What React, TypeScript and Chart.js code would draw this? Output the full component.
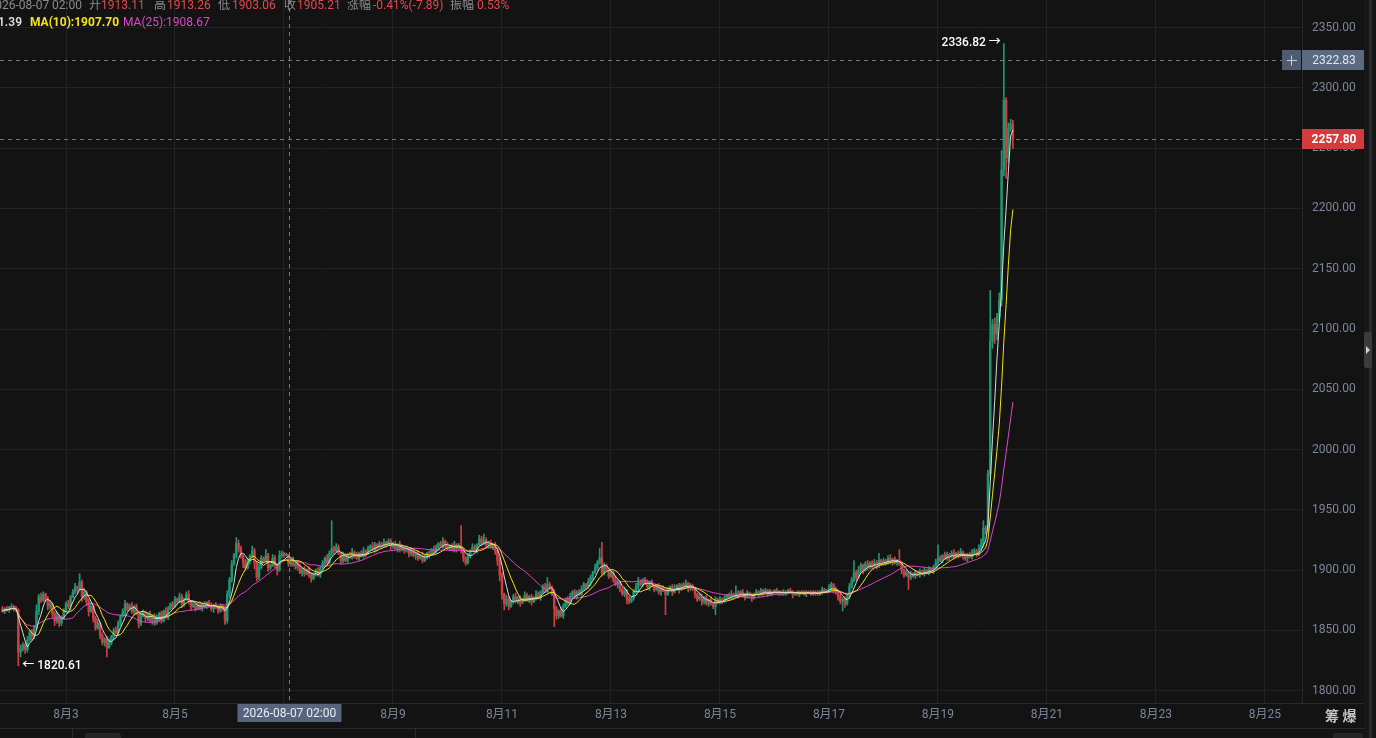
import React, { useEffect, useRef } from "react";
import { Chart, registerables } from "chart.js";

Chart.register(...registerables);

const FONT = "Roboto, 'Noto Sans CJK SC', 'Noto Sans', sans-serif";

// hours since 2026-08-01 00:00 of the first hourly candle
const FIRST_HOUR = 20;
const FIRST_OPEN = 1868;

// hourly closes, one row per day (8/1 from 20:00 ... 8/20 09:00)
const closes: number[] = [
  1866, 1868, 1867, 1869,
  1870, 1868, 1867, 1832, 1835, 1838, 1834, 1842, 1848, 1845, 1852, 1866, 1878, 1875, 1880, 1876, 1870, 1872, 1864, 1858, 1862, 1856, 1860, 1866,
  1872, 1870, 1878, 1882, 1886, 1884, 1890, 1878, 1882, 1874, 1866, 1870, 1860, 1852, 1856, 1846, 1840, 1843, 1836, 1840, 1845, 1850, 1848, 1856,
  1862, 1866, 1872, 1868, 1870, 1866, 1870, 1864, 1856, 1862, 1865, 1860, 1863, 1858, 1862, 1856, 1860, 1864, 1858, 1866, 1862, 1868, 1872, 1870,
  1876, 1874, 1878, 1872, 1876, 1880, 1874, 1870, 1872, 1868, 1871, 1869, 1872, 1870, 1873, 1870, 1868, 1871, 1869, 1866, 1870, 1868, 1858, 1880,
  1892, 1905, 1912, 1922, 1918, 1912, 1906, 1902, 1908, 1912, 1916, 1906, 1894, 1902, 1910, 1907.8, 1912, 1902, 1904, 1910, 1904, 1900, 1912, 1914,
  1912.63, 1913.11, 1905.21, 1908, 1904, 1906, 1902, 1898, 1901, 1897, 1900, 1896, 1893, 1897, 1899, 1896, 1902, 1906, 1910, 1906, 1914, 1918, 1916, 1919,
  1914, 1908, 1912, 1908, 1913, 1911, 1915, 1913, 1910, 1914, 1912, 1916, 1914, 1918, 1920, 1917, 1921, 1919, 1922, 1920, 1923, 1921, 1924, 1920,
  1922, 1918, 1921, 1917, 1919, 1916, 1918, 1914, 1916, 1912, 1914, 1910, 1912, 1908, 1911, 1914, 1913, 1917, 1915, 1919, 1922, 1920, 1924, 1921,
  1918, 1920, 1917, 1921, 1918, 1920, 1916, 1910, 1906, 1912, 1916, 1919, 1917, 1921, 1926, 1922, 1925, 1921, 1923, 1919, 1921, 1916, 1908, 1896,
  1880, 1872, 1876, 1870, 1874, 1878, 1874, 1877, 1873, 1876, 1879, 1875, 1878, 1874, 1877, 1880, 1877, 1882, 1886, 1884, 1888, 1886, 1882, 1868,
  1862, 1866, 1862, 1870, 1876, 1874, 1878, 1882, 1879, 1882, 1880, 1884, 1888, 1886, 1890, 1894, 1898, 1902, 1906, 1910, 1898, 1904, 1900, 1895,
  1898, 1892, 1888, 1890, 1884, 1880, 1883, 1876, 1874, 1877, 1882, 1886, 1890, 1888, 1892, 1889, 1886, 1890, 1887, 1884, 1886, 1882, 1885, 1883,
  1880, 1884, 1886, 1882, 1885, 1887, 1884, 1888, 1886, 1889, 1885, 1887, 1884, 1880, 1876, 1878, 1874, 1877, 1872, 1875, 1872, 1870, 1876, 1873,
  1876, 1874, 1877, 1879, 1877, 1880, 1878, 1881, 1879, 1882, 1880, 1878, 1881, 1879, 1877, 1880, 1882, 1880, 1883, 1881, 1883, 1880, 1882, 1881,
  1883, 1881, 1882, 1880, 1882, 1881, 1883, 1882, 1880, 1881, 1880, 1882, 1881, 1880, 1882, 1881, 1880, 1882, 1881, 1880, 1882, 1884, 1882, 1883,
  1885, 1888, 1884, 1882, 1878, 1874, 1876, 1872, 1878, 1886, 1892, 1898, 1894, 1900, 1904, 1900, 1905, 1902, 1906, 1903, 1906, 1904, 1908, 1905,
  1908, 1906, 1910, 1907, 1909, 1906, 1908, 1905, 1900, 1896, 1898, 1894, 1897, 1895, 1898, 1896, 1899, 1897, 1900, 1898, 1901, 1899, 1902, 1906,
  1910, 1908, 1912, 1910, 1913, 1911, 1914, 1911, 1914, 1912, 1915, 1912, 1910, 1913, 1911, 1914, 1916, 1913, 1918, 1922, 1935, 1934, 1980, 2090,
  2104, 2096, 2110, 2124, 2232, 2290, 2242, 2266, 2270, 2257.8,
];

// upper wick above the body
const wickUp: number[] = [
  2, 1, 2, 1,
  2, 1, 2, 1, 3, 2, 1, 3, 2, 3, 2, 5, 2, 3, 2, 1, 2, 3, 1, 2, 3, 1, 2, 2,
  2, 3, 1, 2, 3, 1, 7, 2, 3, 1, 2, 3, 1, 2, 3, 1, 2, 1, 2, 3, 1, 2, 3, 2,
  1, 2, 3, 1, 2, 3, 1, 2, 1, 3, 2, 1, 2, 3, 1, 2, 3, 1, 2, 1, 3, 2, 1, 2,
  2, 1, 3, 2, 1, 2, 3, 1, 2, 1, 2, 3, 1, 2, 1, 2, 3, 1, 2, 1, 2, 1, 2, 3,
  2, 3, 2, 5, 3, 2, 1, 3, 2, 1, 4, 2, 1, 3, 2, 1, 5, 2, 1, 3, 2, 1, 4, 2,
  1, 1, 0.15, 2, 3, 1, 2, 3, 1, 2, 1, 3, 2, 1, 2, 3, 1, 2, 1, 3, 2, 23, 2, 3,
  2, 1, 3, 2, 1, 2, 3, 1, 2, 1, 2, 3, 1, 2, 1, 3, 2, 1, 2, 1, 3, 1, 2, 2,
  1, 2, 1, 3, 2, 1, 2, 1, 3, 2, 1, 2, 1, 3, 2, 1, 2, 1, 3, 2, 1, 2, 3, 1,
  2, 1, 2, 3, 1, 2, 17, 2, 1, 2, 1, 3, 2, 1, 3, 2, 5, 2, 1, 2, 1, 2, 1, 2,
  2, 1, 3, 2, 1, 2, 3, 1, 2, 1, 3, 2, 1, 2, 1, 3, 2, 1, 2, 3, 6, 2, 1, 2,
  2, 1, 3, 2, 1, 2, 3, 1, 2, 1, 2, 3, 2, 1, 3, 2, 1, 3, 2, 8, 13, 2, 1, 2,
  2, 1, 3, 2, 1, 2, 3, 1, 2, 1, 2, 3, 4, 2, 1, 2, 3, 1, 2, 1, 2, 3, 1, 2,
  1, 2, 1, 2, 3, 1, 2, 1, 2, 3, 1, 2, 1, 2, 1, 3, 2, 1, 2, 1, 3, 1, 2, 1,
  2, 1, 2, 1, 2, 3, 1, 6, 2, 1, 2, 1, 2, 1, 2, 1, 2, 1, 2, 1, 2, 1, 2, 1,
  1, 2, 1, 1, 2, 1, 1, 2, 1, 1, 2, 1, 1, 2, 1, 1, 2, 1, 1, 2, 1, 2, 1, 1,
  3, 2, 1, 2, 1, 2, 1, 2, 2, 3, 2, 10, 2, 3, 2, 1, 2, 3, 1, 2, 3, 2, 6, 1,
  2, 1, 2, 3, 1, 2, 1, 9, 2, 1, 2, 1, 2, 1, 2, 1, 2, 1, 2, 1, 2, 1, 2, 3,
  11, 2, 1, 3, 2, 1, 2, 3, 1, 2, 3, 1, 2, 1, 2, 3, 2, 1, 3, 4, 6, 2, 3, 42,
  4, 5, 3, 6, 16, 46.82, 2, 5, 4, 3,
];

// lower wick below the body
const wickDn: number[] = [
  1, 2, 1, 2,
  1, 2, 1, 11.39, 4, 2, 3, 2, 1, 3, 2, 1, 3, 2, 1, 2, 3, 2, 3, 4, 2, 3, 2, 1,
  1, 2, 3, 1, 2, 3, 1, 4, 2, 3, 4, 1, 3, 2, 1, 3, 2, 3, 8, 1, 2, 3, 1, 2,
  2, 1, 3, 2, 1, 2, 3, 1, 4, 2, 1, 3, 2, 1, 3, 2, 1, 3, 2, 1, 2, 3, 1, 2,
  1, 2, 1, 3, 2, 1, 2, 3, 1, 2, 1, 2, 3, 1, 2, 1, 2, 3, 1, 2, 1, 2, 3, 2,
  3, 2, 1, 2, 3, 2, 4, 2, 1, 3, 2, 5, 3, 2, 1, 2, 1, 3, 2, 1, 2, 4, 1, 2,
  2, 1, 2.15, 2, 1, 3, 2, 1, 3, 2, 1, 2, 3, 1, 2, 1, 2, 1, 3, 2, 1, 2, 3, 1,
  1, 3, 2, 1, 2, 1, 2, 3, 1, 2, 1, 2, 3, 1, 2, 1, 2, 3, 1, 2, 1, 2, 1, 3,
  2, 1, 3, 2, 1, 2, 1, 3, 2, 1, 3, 2, 1, 2, 1, 2, 3, 1, 2, 1, 2, 1, 2, 3,
  1, 2, 1, 2, 3, 1, 2, 3, 2, 1, 2, 1, 2, 3, 1, 2, 1, 2, 3, 1, 2, 3, 4, 5,
  4, 5, 2, 3, 1, 2, 1, 2, 3, 1, 2, 1, 2, 3, 1, 2, 1, 2, 1, 2, 3, 2, 3, 15,
  3, 2, 1, 2, 1, 3, 2, 1, 2, 3, 1, 2, 1, 2, 1, 3, 2, 1, 2, 1, 3, 2, 1, 2,
  1, 2, 1, 3, 2, 1, 2, 4, 2, 1, 2, 1, 3, 1, 2, 1, 2, 3, 1, 2, 1, 2, 3, 1,
  17, 1, 2, 3, 1, 2, 3, 1, 2, 1, 3, 2, 1, 3, 2, 1, 3, 2, 1, 2, 1, 2, 7, 1,
  1, 2, 1, 2, 1, 1, 2, 1, 2, 1, 2, 3, 1, 2, 3, 1, 1, 2, 1, 2, 1, 2, 1, 2,
  1, 1, 2, 1, 1, 2, 1, 1, 3, 1, 1, 2, 1, 1, 2, 1, 1, 1, 2, 1, 1, 2, 1, 1,
  1, 2, 3, 2, 3, 2, 8, 3, 1, 2, 1, 2, 3, 1, 2, 3, 1, 2, 1, 2, 1, 3, 2, 1,
  1, 2, 1, 2, 3, 1, 2, 1, 3, 2, 1, 10, 2, 1, 2, 1, 2, 1, 2, 1, 2, 1, 2, 1,
  2, 1, 2, 1, 2, 3, 1, 2, 1, 2, 1, 3, 2, 3, 1, 2, 1, 2, 1, 2, 3, 4, 2, 3,
  6, 8, 5, 4, 5, 5, 17, 4, 2, 8,
];

const xTickHours = [48, 96, 144, 192, 240, 288, 336, 384, 432, 480, 528, 576];
const yTicks = [1800, 1850, 1900, 1950, 2000, 2050, 2100, 2150, 2200, 2250, 2300, 2350];
const maPeriods = [5, 10, 25];
const maColors = ["#d9d9d9", "#f3e21b", "#e046c8"];

const crosshairHour = 146;
const crosshairPrice = 2322.83;
const crosshairLabel = "2026-08-07 02:00";
const changeText = "-0.41%(-7.89)";
const amplitudeText = "0.53%";

const X_MIN = 18.935;
const X_MAX = 592.3;
const Y_MIN = 1789.8;
const Y_MAX = 2372.9;

const UP = "#1f9672";
const DOWN = "#cf3f42";

const hours = closes.map((_, i) => FIRST_HOUR + i);
const opens = closes.map((_, i) => (i === 0 ? FIRST_OPEN : closes[i - 1]));
const highs = closes.map((c, i) => Math.max(opens[i], c) + (wickUp[i] ?? 0));
const lows = closes.map((c, i) => Math.min(opens[i], c) - (wickDn[i] ?? 0));

function movingAverage(period: number): number[] {
  return closes.map((_, i) => {
    const s = Math.max(0, i - period + 1);
    let sum = 0;
    for (let k = s; k <= i; k++) sum += closes[k];
    return sum / (i - s + 1);
  });
}
const maSeries = maPeriods.map((p) => movingAverage(p));

const chIdx = crosshairHour - FIRST_HOUR;
const chOpen = opens[chIdx];
const chHigh = highs[chIdx];
const chLow = lows[chIdx];
const chClose = closes[chIdx];

const candleColor = (i: number) => (closes[i] >= opens[i] ? UP : DOWN);

const overlayPlugin = {
  id: "overlay",
  afterDraw(chart: any) {
    const { ctx, chartArea } = chart;
    const xs = chart.scales.x;
    const ys = chart.scales.y;
    ctx.save();

    // frame lines of the time axis band
    ctx.strokeStyle = "#2a2a2a";
    ctx.lineWidth = 1;
    ctx.beginPath();
    ctx.moveTo(0, Math.round(chartArea.bottom) + 0.5);
    ctx.lineTo(1364, Math.round(chartArea.bottom) + 0.5);
    ctx.moveTo(0, Math.round(chartArea.bottom) + 25.5);
    ctx.lineTo(1364, Math.round(chartArea.bottom) + 25.5);
    ctx.stroke();

    // crosshair vertical
    const cx = Math.round(xs.getPixelForValue(crosshairHour)) + 0.5;
    ctx.setLineDash([4, 4]);
    ctx.strokeStyle = "#7c7c7c";
    ctx.beginPath();
    ctx.moveTo(cx, chartArea.top);
    ctx.lineTo(cx, chartArea.bottom);
    ctx.stroke();

    // crosshair horizontal
    const cy = Math.round(ys.getPixelForValue(crosshairPrice)) + 0.5;
    ctx.strokeStyle = "#6f7c90";
    ctx.beginPath();
    ctx.moveTo(0, cy);
    ctx.lineTo(chartArea.right - 20, cy);
    ctx.stroke();

    // last price line
    const last = closes[closes.length - 1];
    const ly = Math.round(ys.getPixelForValue(last)) + 0.5;
    ctx.strokeStyle = "#f03a3e";
    ctx.beginPath();
    ctx.moveTo(0, ly);
    ctx.lineTo(chartArea.right, ly);
    ctx.stroke();
    ctx.setLineDash([]);

    const R = chartArea.right;
    // last price box
    ctx.fillStyle = "#d53b3d";
    ctx.fillRect(R, ly - 10.5, 64, 20);
    ctx.fillStyle = "#ffffff";
    ctx.font = `bold 12px ${FONT}`;
    ctx.textAlign = "center";
    ctx.textBaseline = "middle";
    ctx.fillText(last.toFixed(2), R + 32, ly);

    // crosshair price box + plus button
    ctx.fillStyle = "#5b6a80";
    ctx.fillRect(R, cy - 10.5, 64, 20);
    ctx.fillStyle = "#4f5c70";
    ctx.fillRect(R - 20, cy - 10.5, 19, 20);
    ctx.strokeStyle = "#c9d1dc";
    ctx.lineWidth = 1;
    ctx.beginPath();
    ctx.moveTo(R - 15, cy);
    ctx.lineTo(R - 5, cy);
    ctx.moveTo(R - 10.5, cy - 5);
    ctx.lineTo(R - 10.5, cy + 5);
    ctx.stroke();
    ctx.fillStyle = "#e2e7ee";
    ctx.font = `12px ${FONT}`;
    ctx.fillText(crosshairPrice.toFixed(2), R + 32, cy);

    // crosshair time box
    const by = chartArea.bottom + 1;
    ctx.fillStyle = "#56657c";
    ctx.fillRect(cx - 52, by, 104, 18);
    ctx.fillStyle = "#e8ecf2";
    ctx.fillText(crosshairLabel, cx, by + 9.5);

    // max / min markers
    let maxI = 0;
    let minI = 0;
    highs.forEach((h, i) => {
      if (h > highs[maxI]) maxI = i;
    });
    lows.forEach((l, i) => {
      if (l < lows[minI]) minI = i;
    });
    ctx.fillStyle = "#ffffff";
    ctx.font = `500 12px ${FONT}`;
    ctx.textAlign = "right";
    ctx.fillText(
      highs[maxI].toFixed(2) + " →",
      xs.getPixelForValue(hours[maxI]) - 3,
      ys.getPixelForValue(highs[maxI])
    );
    ctx.textAlign = "left";
    ctx.fillText(
      "← " + lows[minI].toFixed(2),
      xs.getPixelForValue(hours[minI]) + 4,
      ys.getPixelForValue(lows[minI])
    );
    ctx.restore();
  },
};

export default function App() {
  const ref = useRef<HTMLCanvasElement>(null);

  useEffect(() => {
    if (!ref.current) return;
    const wickData = hours.map((h, i) => ({ x: h, y: [lows[i], highs[i]] }));
    const bodyData = hours.map((h, i) => ({ x: h, y: [opens[i], closes[i]] }));
    const lineSets = maSeries.map((s, k) => ({
      type: "line" as const,
      label: `MA(${maPeriods[k]})`,
      data: hours.map((h, i) => ({ x: h, y: s[i] })),
      borderColor: maColors[k],
      borderWidth: 1,
      pointRadius: 0,
      tension: 0,
      order: 1,
    }));

    const chart = new Chart(ref.current, {
      type: "bar",
      data: {
        datasets: [
          {
            type: "bar",
            label: "wick",
            data: wickData as any,
            backgroundColor: (c: any) => candleColor(c.dataIndex),
            barThickness: 1,
            grouped: false,
            order: 3,
          } as any,
          {
            type: "bar",
            label: "body",
            data: bodyData as any,
            backgroundColor: (c: any) => candleColor(c.dataIndex),
            barThickness: 1.8,
            grouped: false,
            order: 2,
          } as any,
          ...lineSets,
        ],
      },
      options: {
        responsive: false,
        animation: false,
        devicePixelRatio: 1,
        layout: { autoPadding: false, padding: { left: 0, top: 0, right: 12, bottom: 10 } },
        plugins: {
          legend: { display: false },
          tooltip: { enabled: false },
        },
        events: [],
        scales: {
          x: {
            type: "linear",
            min: X_MIN,
            max: X_MAX,
            offset: false,
            grid: { color: "#222222", offset: false, drawTicks: false },
            border: { display: false },
            afterFit: (s: any) => {
              s.height = 25;
              s.paddingLeft = 0;
              s.paddingRight = 0;
            },
            afterBuildTicks: (s: any) => {
              s.ticks = xTickHours.map((v) => ({ value: v }));
            },
            ticks: {
              autoSkip: false,
              maxRotation: 0,
              padding: 5,
              color: "#7b869a",
              font: { size: 12, family: FONT },
              callback: (v: any) => `8月${Math.round(Number(v) / 24) + 1}`,
            },
          },
          y: {
            type: "linear",
            position: "right",
            min: Y_MIN,
            max: Y_MAX,
            grid: { color: "#222222", drawTicks: false },
            border: { display: true, color: "#262626" },
            afterFit: (s: any) => {
              s.width = 62;
              s.paddingTop = 0;
              s.paddingBottom = 0;
            },
            afterBuildTicks: (s: any) => {
              s.ticks = yTicks.map((v) => ({ value: v }));
            },
            ticks: {
              padding: 10,
              color: "#7b869a",
              font: { size: 12, family: FONT },
              callback: (v: any) => Number(v).toFixed(2),
            },
          },
        },
      } as any,
      plugins: [overlayPlugin],
    });
    return () => {
      chart.destroy();
    };
  }, []);

  const gray = "#8b8b8b";
  const red = "#e5484c";
  const t = (left: number, top: number, color: string, text: string, extra: any = {}) => (
    <span
      style={{
        position: "absolute",
        left,
        top,
        color,
        whiteSpace: "nowrap",
        fontSize: 12,
        lineHeight: "14px",
        ...extra,
      }}
    >
      {text}
    </span>
  );

  return (
    <div
      style={{
        position: "fixed",
        left: 0,
        top: 0,
        width: 1376,
        height: 738,
        background: "#131313",
        overflow: "hidden",
        fontFamily: FONT,
      }}
    >
      <canvas ref={ref} width={1376} height={738} style={{ position: "absolute", left: 0, top: 0 }} />

      {/* header line 1 */}
      <span
        style={{
          position: "absolute",
          right: 1376 - 82,
          top: -2,
          color: gray,
          fontSize: 12,
          lineHeight: "14px",
          whiteSpace: "nowrap",
        }}
      >
        {crosshairLabel}
      </span>
      {t(89, -2, gray, "开")}
      {t(101, -2, red, chOpen.toFixed(2))}
      {t(154, -2, gray, "高")}
      {t(167, -2, red, chHigh.toFixed(2))}
      {t(218, -2, gray, "低")}
      {t(232, -2, red, chLow.toFixed(2))}
      {t(284, -2, gray, "收")}
      {t(297, -2, red, chClose.toFixed(2))}
      {t(347, -2, gray, "涨幅")}
      {t(373, -2, red, changeText)}
      {t(450, -2, gray, "振幅")}
      {t(477, -2, red, amplitudeText)}

      {/* header line 2 */}
      <span
        style={{
          position: "absolute",
          right: 1376 - 22,
          top: 15,
          color: "#dedede",
          fontSize: 12,
          lineHeight: "14px",
          fontWeight: 600,
          whiteSpace: "nowrap",
        }}
      >
        {`MA(${maPeriods[0]}):${maSeries[0][chIdx].toFixed(2)}`}
      </span>
      {t(30, 15, maColors[1], `MA(${maPeriods[1]}):${maSeries[1][chIdx].toFixed(2)}`, { fontWeight: 700 })}
      {t(123, 15, maColors[2], `MA(${maPeriods[2]}):${maSeries[2][chIdx].toFixed(2)}`)}

      {/* right strip / scrollbar */}
      <div style={{ position: "absolute", left: 1364, top: 0, width: 12, height: 738, background: "#171717" }} />
      <div style={{ position: "absolute", left: 1369, top: 0, width: 3, height: 738, background: "#2b2b2b" }} />
      <div
        style={{
          position: "absolute",
          left: 1364,
          top: 332,
          width: 8,
          height: 36,
          background: "#3c3c3c",
          borderRadius: 2,
        }}
      />
      <div
        style={{
          position: "absolute",
          left: 1366,
          top: 346,
          width: 0,
          height: 0,
          borderTop: "4px solid transparent",
          borderBottom: "4px solid transparent",
          borderLeft: "4px solid #d0d0d0",
        }}
      />

      {/* 筹 爆 */}
      {t(1325, 708, "#c4c4c4", "筹  爆", { fontSize: 14, lineHeight: "16px", fontWeight: 700 })}

      {/* bottom toolbar */}
      <div style={{ position: "absolute", left: 72, top: 729, width: 1, height: 9, background: "#2a2a2a" }} />
      <div style={{ position: "absolute", left: 85, top: 733, width: 36, height: 8, background: "#262626", borderRadius: 3 }} />
      <div style={{ position: "absolute", left: 415, top: 729, width: 1, height: 9, background: "#2a2a2a" }} />
      <div style={{ position: "absolute", left: 1333, top: 733, width: 30, height: 8, background: "#262626", borderRadius: 3 }} />
    </div>
  );
}
